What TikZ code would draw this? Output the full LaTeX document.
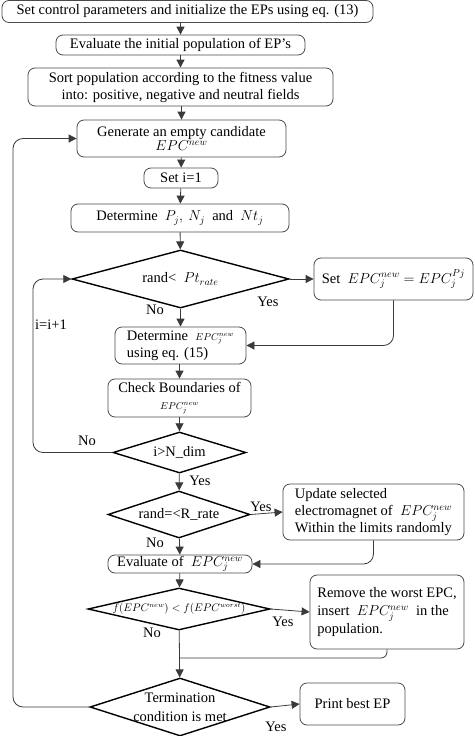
\documentclass[tikz,border=0pt]{standalone}
\usepackage{fontspec}
\setmainfont{Liberation Serif}
\usetikzlibrary{shapes.geometric,arrows.meta,calc}
\definecolor{boxgray}{HTML}{4A4A4A}
\definecolor{linegray}{HTML}{3A3A3A}
\begin{document}
\begin{tikzpicture}[x=1pt,y=-1pt,
  font=\fontsize{14.5}{17}\selectfont,
  box/.style={draw=boxgray, line width=0.8pt, rounded corners=7pt, inner sep=1pt, align=center},
  dia/.style={diamond, draw=black, line width=1.4pt, inner sep=0pt},
  arr/.style={draw=linegray, line width=0.8pt, -{Triangle[length=8pt,width=8pt]}},
  ln/.style={draw=linegray, line width=0.8pt},
  lbl/.style={inner sep=0pt}
]
\useasboundingbox (0,0) rectangle (474,736);

\node[box, minimum width=371pt, minimum height=22pt] (b1) at (187.5,11.5) {Set control parameters and initialize the EPs using eq. (13)};
\node[box, minimum width=249pt, minimum height=20pt] (b2) at (180.5,45) {Evaluate the initial population of EP’s};
\node[box, minimum width=305pt, minimum height=38pt] (b3) at (180.5,87) {Sort population according to the fitness value\\ into: positive, negative and neutral fields};
\node[box, minimum width=209pt, minimum height=37pt] (b4) at (181.5,138.5) {Generate an empty candidate\\[-3pt] $EPC^{new}$};
\node[box, minimum width=74pt, minimum height=20pt] (b5) at (181,178) {Set i=1};
\node[box, minimum width=218pt, minimum height=28pt] (b6) at (180,218) {Determine \ $\large P_j,\ N_j$ \ and \ $\large Nt_j$};
\node[dia, minimum width=217pt, minimum height=58pt] (d1) at (180.5,279) {};
\node[lbl] at (d1) {rand< \ $\large Pt_{rate}$};
\node[box, minimum width=159pt, minimum height=42pt] (bset) at (393.5,279) {Set \ $EPC_j^{new} = EPC_j^{Pj}$};
\node[box, minimum width=131pt, minimum height=37pt, align=left, inner sep=2pt] (b7) at (180.5,345.5) {Determine \ $\scriptstyle EPC_j^{new}$\\ using eq. (15)};
\node[box, minimum width=143pt, minimum height=38pt] (b8) at (179.5,398) {Check Boundaries of\\ $\scriptstyle EPC_j^{new}$};
\node[dia, minimum width=133pt, minimum height=41pt] (d2) at (179.5,452.5) {};
\node[lbl] at (d2) {i>N\_dim};
\node[dia, minimum width=142pt, minimum height=47pt] (d3) at (179,514.5) {};
\node[lbl] at (d3) {rand=<R\_rate};
\node[box, minimum width=181pt, minimum height=56pt, align=left, inner sep=2pt] (bup) at (373.5,512) {Update selected\\ electromagnet of \ $EPC_j^{new}$\\ Within the limits randomly};
\node[box, minimum width=144pt, minimum height=18pt, inner sep=0pt] (b9) at (180,564) {Evaluate of \ $EPC_j^{new}$};
\node[dia, minimum width=182pt, minimum height=42pt] (d4) at (179,609) {};
\node[lbl] at (d4) {\fontsize{10.5}{12}\selectfont $f(EPC^{new}) < f(EPC^{worst})$};
\node[box, minimum width=154pt, minimum height=74pt, align=left, inner sep=3pt] (brem) at (387,612) {Remove the worst EPC,\\[1pt] insert \ $EPC_j^{new}$ \ in the\\[1pt] population.};
\node[dia, minimum width=180pt, minimum height=58pt] (d5) at (180,707) {};
\node[lbl, align=center] at (d5) {Termination\\[2pt] condition is met};
\node[box, minimum width=105pt, minimum height=42pt] (bprint) at (352.5,704) {Print best EP};

% main flow
\draw[arr] (b2.north |- b1.south) -- (b2.north);
\draw[arr] (b2) -- (b3);
\draw[arr] (b3.south -| b4.north) -- (b4.north);
\draw[arr] (b4) -- (b5);
\draw[arr] (b5) -- (b6);
\draw[arr] (b6) -- (d1);
\draw[arr] (d1.east) -- (bset.west);
\draw[arr] (d1.south) -- (d1.south |- b7.north);
\draw[arr, rounded corners=10pt] (bset.south) |- (b7.east);
\draw[arr] (b7.south -| b8.north) -- (b8.north);
\draw[arr] (b8) -- (d2);
\coordinate (lx) at (33,0);
\draw[arr, rounded corners=10pt] (d2.west) -| (lx |- d1.west) -- (d1.west);
\draw[arr] (d2) -- (d3);
\draw[arr] (d3.east) -- (bup.west);
\draw[arr] (d3) -- (b9);
\draw[arr, rounded corners=10pt] (bup.south) |- (b9.east);
\draw[arr] (b9) -- (d4);
\draw[arr] (d4.east) -- (brem.west);
\draw[arr] (d4) -- (d5);
\coordinate (mj) at (180,658);
\draw[ln, rounded corners=6pt] (brem.south) |- (mj);
\draw[arr] (d5.east) -- (bprint.west);
\coordinate (llx) at (13,0);
\draw[arr, rounded corners=10pt] (d5.west) -| (llx |- b4.west) -- (b4.west);

% labels
\node[lbl] at (268,302) {Yes};
\node[lbl] at (155,310) {No};
\node[lbl, anchor=west] at (35,325) {i=i+1};
\node[lbl] at (87,441) {No};
\node[lbl] at (200,481) {Yes};
\node[lbl] at (261,507) {Yes};
\node[lbl] at (155,543) {No};
\node[lbl] at (283,622) {Yes};
\node[lbl] at (152,633) {No};
\node[lbl] at (276,727) {Yes};
\end{tikzpicture}
\end{document}
